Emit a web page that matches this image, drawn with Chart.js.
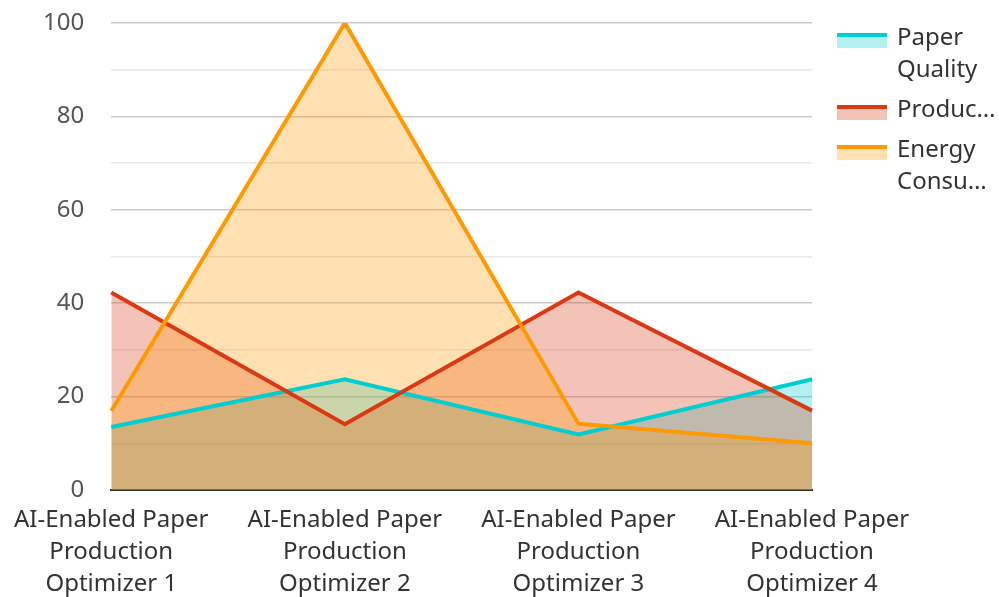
<!DOCTYPE html>
<html>
<head>
<meta charset="utf-8">
<script src="https://cdn.jsdelivr.net/npm/chart.js@4.4.1/dist/chart.umd.min.js"></script>
<style>
  html, body { margin: 0; padding: 0; background: #ffffff; }
  #wrap { width: 999px; height: 597px; position: relative; }
</style>
</head>
<body>
<div id="wrap"><canvas id="chart" width="999" height="597"></canvas></div>
<script>
// Categories along the x axis (each label wrapped over three lines)
const categories = [
  ['AI-Enabled Paper', 'Production', 'Optimizer 1'],
  ['AI-Enabled Paper', 'Production', 'Optimizer 2'],
  ['AI-Enabled Paper', 'Production', 'Optimizer 3'],
  ['AI-Enabled Paper', 'Production', 'Optimizer 4']
];

// Series values
const paperQuality = [13.5, 23.7, 11.9, 23.7];
const productionEfficiency = [42.3, 14.1, 42.3, 17.0];
const energyConsumption = [16.9, 100, 14.2, 10.0];

// Series names
const seriesNames = ['Paper Quality', 'Production Efficiency', 'Energy Consumption'];

// Y axis range
const yMin = 0;
const yMax = 100;
const yStep = 10;

const FONT = '"Noto Sans", "Open Sans", sans-serif';

const lineColors = ['#00CED1', '#DC3912', '#FF9900'];
const fillColors = ['rgba(0,206,209,0.3)', 'rgba(220,57,18,0.3)', 'rgba(255,153,0,0.3)'];

// Legend drawn on the right: colour swatch with a top stripe, wrapped / truncated names
const sideLegend = {
  id: 'sideLegend',
  afterDraw(chart) {
    const ctx = chart.ctx;
    const boxX = 837, boxW = 50, boxH = 15;
    const textX = 897, maxW = 100, pitch = 32;
    ctx.save();
    ctx.font = '24px ' + FONT;
    ctx.textBaseline = 'alphabetic';
    ctx.textAlign = 'left';
    const fits = (s) => ctx.measureText(s).width <= maxW;
    const clip = (s) => {
      if (fits(s)) return s;
      let t = s;
      while (t.length > 1 && !fits(t + '…')) t = t.slice(0, -1);
      return t + '…';
    };
    // wrap words into at most two lines; a word that cannot fit is cut with an ellipsis
    const wrap = (name) => {
      const words = name.split(' ');
      const lines = [];
      let cur = '';
      for (const w of words) {
        if (!cur) {
          if (!fits(w)) { lines.push(clip(w)); return lines; }
          cur = w;
          continue;
        }
        if (fits(cur + ' ' + w)) { cur = cur + ' ' + w; continue; }
        lines.push(cur);
        if (lines.length === 2) return lines;
        if (!fits(w)) { lines.push(clip(w)); return lines; }
        cur = w;
      }
      if (cur && lines.length < 2) lines.push(cur);
      return lines;
    };
    let baseline = 45;
    chart.data.datasets.forEach((ds, i) => {
      const lines = wrap(seriesNames[i]);
      const top = baseline - 12;
      ctx.fillStyle = fillColors[i];
      ctx.fillRect(boxX, top, boxW, boxH);
      ctx.fillStyle = lineColors[i];
      ctx.fillRect(boxX, top, boxW, 4);
      ctx.fillStyle = '#333333';
      lines.forEach((ln, j) => ctx.fillText(ln, textX, baseline + j * pitch));
      baseline += (lines.length - 1) * pitch + 40;
    });
    ctx.restore();
  }
};

const makeSet = (i, data, order) => ({
  label: seriesNames[i],
  data: data,
  borderColor: lineColors[i],
  backgroundColor: fillColors[i],
  borderWidth: 4,
  fill: 'origin',
  tension: 0,
  pointRadius: 0,
  pointHoverRadius: 0,
  order: order
});

new Chart(document.getElementById('chart'), {
  type: 'line',
  data: {
    labels: categories,
    datasets: [
      makeSet(0, paperQuality, 2),
      makeSet(1, productionEfficiency, 1),
      makeSet(2, energyConsumption, 0)
    ]
  },
  options: {
    responsive: false,
    animation: false,
    layout: { padding: { top: 23, right: 187, left: 0, bottom: 0 } },
    plugins: {
      legend: { display: false },
      tooltip: { enabled: false },
      filler: { drawTime: 'beforeDatasetsDraw' }
    },
    scales: {
      x: {
        offset: false,
        grid: { display: false, drawTicks: false },
        border: { display: true, color: '#333333', width: 2 },
        ticks: {
          color: '#333333',
          font: { family: FONT, size: 24, lineHeight: 1.333 },
          padding: 14,
          maxRotation: 0,
          autoSkip: false
        },
        afterFit(scale) { scale.height = 107; }
      },
      y: {
        min: yMin,
        max: yMax,
        grid: {
          drawTicks: false,
          lineWidth: 1.5,
          color: (c) => (c.tick && c.tick.value % 20 === 0) ? '#cccccc' : '#e8e8e8'
        },
        border: { display: false },
        ticks: {
          stepSize: yStep,
          color: '#555555',
          font: { family: FONT, size: 24 },
          padding: 27,
          callback: (v) => (v % 20 === 0 ? String(v) : '')
        },
        afterFit(scale) {
          scale.width = 110;
          scale.paddingTop = 0;
          scale.paddingBottom = 0;
        }
      }
    }
  },
  plugins: [sideLegend]
});
</script>
</body>
</html>
